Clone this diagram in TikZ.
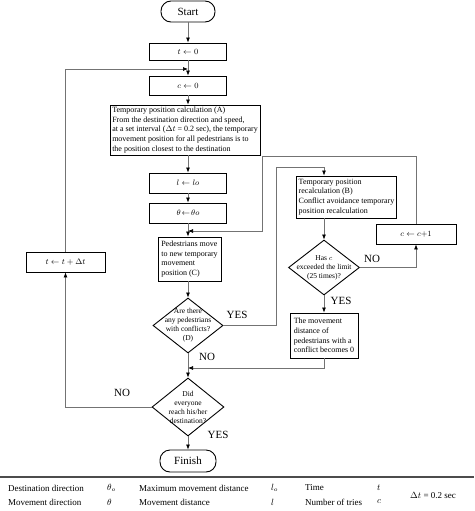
\documentclass[tikz,border=0pt]{standalone}
\usepackage{fontspec}
\setmainfont{Liberation Serif}
\usetikzlibrary{shapes.geometric,arrows.meta}

\begin{document}
\begin{tikzpicture}[x=1pt,y=-1pt,
  box/.style={draw,line width=0.9pt,font=\fontsize{8}{9.6}\selectfont,inner sep=2pt},
  lbox/.style={box,align=left},
  dec/.style={draw,line width=0.9pt,diamond,inner sep=0pt},
  dtxt/.style={align=center,font=\fontsize{7.5}{9}\selectfont,inner sep=0pt},
  term/.style={draw,line width=0.9pt,rounded corners=10pt,minimum width=54pt,minimum height=21pt,font=\fontsize{11}{12}\selectfont},
  line/.style={draw=black!55,line width=0.7pt},
  arr/.style={line,-{Latex[color=black,length=5pt,width=4pt]}},
  yn/.style={font=\fontsize{11}{12}\selectfont,inner sep=0pt},
  key/.style={anchor=west,font=\fontsize{9}{10}\selectfont,inner sep=0pt}]
\useasboundingbox (0,0) rectangle (474,511);

% main column
\node[term] (start) at (188,11.5) {Start};
\node[box,minimum width=77pt,minimum height=17pt] (t0) at (188,51.5) {$t \leftarrow 0$};
\node[box,minimum width=77pt,minimum height=19pt] (c0) at (188,85.5) {$c \leftarrow 0$};
\node[lbox,minimum width=150pt,minimum height=50pt] (calc) at (185,130)
  {Temporary position calculation (A)\\
   From the destination direction and speed,\\
   at a set interval ($\Delta t$ = 0.2 sec), the temporary\\
   movement position for all pedestrians is to\\
   the position closest to the destination};
\node[box,minimum width=77pt,minimum height=20pt] (l) at (188,183) {$l \leftarrow lo$};
\node[box,minimum width=77pt,minimum height=20pt] (th) at (188,213) {$\theta\!\leftarrow\!\theta o$};
\node[lbox,minimum width=63pt,minimum height=44pt] (move) at (189.5,259)
  {Pedestrians move\\to new temporary\\movement\\position (C)};
\node[dec,minimum width=70pt,minimum height=55pt] (D) at (188,325.5) {};
\node[dtxt] at (D) {Are there\\any pedestrians\\with conflicts?\\(D)};
\node[dec,minimum width=72pt,minimum height=58pt] (E) at (188,407) {};
\node[dtxt] at (E) {Did\\everyone\\reach his/her\\destination?};
\node[term,minimum width=56pt,minimum height=22pt] (finish) at (188,461) {Finish};

% left loop
\node[box,minimum width=79pt,minimum height=20pt] (tdt) at (65.5,262) {$t \leftarrow t + \Delta t$};

% right part
\node[lbox,minimum width=99pt,minimum height=42pt] (B) at (346.5,197)
  {Temporary position\\recalculation (B)\\Conflict avoidance temporary\\position recalculation};
\node[dec,minimum width=71pt,minimum height=55pt] (H) at (324,267.5) {};
\node[dtxt] at (H) {Has $c$\\exceeded the limit\\(25 times)?};
\node[lbox,minimum width=68pt,minimum height=45pt] (zero) at (324,335.5)
  {The movement\\distance of\\pedestrians with a\\conflict becomes 0};
\node[box,minimum width=80pt,minimum height=20pt] (cinc) at (416,234) {$c \leftarrow c{+}1$};

\coordinate (ja) at (188,69);
\coordinate (jb) at (188,231);
\coordinate (jn) at (188,368);

\draw[arr] (start) -- (t0);
\draw[arr] (t0) -- (c0);
\draw[arr] (c0.south) -- (c0.south |- calc.north);
\draw[arr] (c0.south |- calc.south) -- (l.north);
\draw[arr] (l) -- (th);
\draw[arr] (th.south) -- (th.south |- move.north);
\draw[arr] (th.south |- move.south) -- (D.north);
\draw[line] (D.south) -- (jn);
\draw[arr] (jn) -- (E.north);
\draw[arr] (E) -- (finish);

\draw[arr] (E.west) -| (tdt.south);
\draw[arr] (tdt.north) |- (ja);
\draw[arr] (D.east) -| (276,167) -| (H.north |- B.north);
\draw[arr] (H.north |- B.south) -- (H.north);
\draw[arr] (H) -- (zero);
\draw[arr] (zero.south) |- (jn);
\draw[arr] (H.east) -| (cinc.south);
\draw[arr] (cinc.north) |- (262,156) |- (jb);

\node[yn] at (237,315) {YES};
\node[yn] at (207,357) {NO};
\node[yn] at (372,259) {NO};
\node[yn] at (341,301) {YES};
\node[yn] at (122,393) {NO};
\node[yn] at (218,435) {YES};

% legend
\draw[black!70,line width=1.6pt] (0,477) -- (474,477);
\node[key] at (8,488) {Destination direction};
\node[key] at (107,488) {$\theta_o$};
\node[key] at (139,488) {Maximum movement distance};
\node[key] at (271,488) {$l_o$};
\node[key] at (305,488) {Time};
\node[key] at (377,488) {$t$};
\node[key] at (8,502) {Movement direction};
\node[key] at (107,502) {$\theta$};
\node[key] at (139,502) {Movement distance};
\node[key] at (271,502) {$l$};
\node[key] at (305,502) {Number of tries};
\node[key] at (377,502) {$c$};
\node[key] at (410,495) {$\Delta t$ = 0.2 sec};
\end{tikzpicture}
\end{document}
